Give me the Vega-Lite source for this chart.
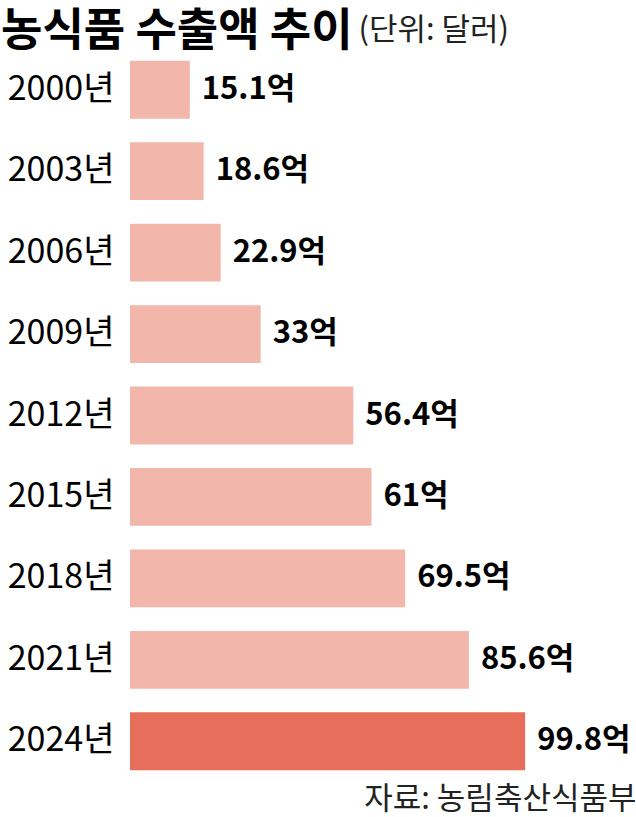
{
  "$schema": "https://vega.github.io/schema/vega-lite/v6.json",
  "width": 506,
  "height": 733,
  "autosize": {"type": "none"},
  "padding": {"left": 130, "top": 49, "right": 0, "bottom": 35},
  "background": "white",
  "config": {"view": {"stroke": null}, "font": "Noto Sans CJK KR"},
  "title": {
    "text": "농식품 수출액 추이",
    "anchor": "start",
    "frame": "group",
    "dx": -129,
    "dy": 49,
    "offset": 8,
    "fontSize": 45,
    "fontWeight": "bold",
    "color": "#000000",
    "font": "Noto Sans CJK KR"
  },
  "data": {
    "values": [
      {"year": "2000년", "value": 15.1},
      {"year": "2003년", "value": 18.6},
      {"year": "2006년", "value": 22.9},
      {"year": "2009년", "value": 33},
      {"year": "2012년", "value": 56.4},
      {"year": "2015년", "value": 61},
      {"year": "2018년", "value": 69.5},
      {"year": "2021년", "value": 85.6},
      {"year": "2024년", "value": 99.8}
    ]
  },
  "transform": [{"calculate": "datum.value + '억'", "as": "label"}],
  "encoding": {
    "y": {
      "field": "year",
      "type": "nominal",
      "sort": null,
      "scale": {"paddingInner": 0.29, "paddingOuter": 0.145},
      "axis": {
        "domain": false,
        "ticks": false,
        "labelFontSize": 34,
        "labelColor": "#000000",
        "labelPadding": 16,
        "labelFont": "Noto Sans CJK KR",
        "title": "(단위: 달러)",
        "titleAngle": 0,
        "titleX": 228,
        "titleY": -10,
        "titleAlign": "left",
        "titleBaseline": "alphabetic",
        "titleFontSize": 31,
        "titleFontWeight": "normal",
        "titleColor": "#222222",
        "titleFont": "Noto Sans CJK KR"
      }
    },
    "x": {
      "field": "value",
      "type": "quantitative",
      "scale": {"domain": [0, 127.8], "nice": false},
      "axis": {
        "domain": false,
        "ticks": false,
        "labels": false,
        "grid": false,
        "title": "자료: 농림축산식품부",
        "titleX": 506,
        "titleY": 26,
        "titleAlign": "right",
        "titleAnchor": null,
        "titleBaseline": "alphabetic",
        "titleFontSize": 31,
        "titleFontWeight": "normal",
        "titleColor": "#222222",
        "titleFont": "Noto Sans CJK KR"
      }
    }
  },
  "layer": [
    {
      "mark": {"type": "bar"},
      "encoding": {
        "color": {
          "condition": {"test": "datum.year === '2024년'", "value": "#E66E5A"},
          "value": "#F3B6AB"
        }
      }
    },
    {
      "mark": {
        "type": "text",
        "align": "left",
        "baseline": "middle",
        "dx": 12,
        "fontSize": 31,
        "fontWeight": "bold",
        "color": "#000000",
        "font": "Noto Sans CJK KR"
      },
      "encoding": {"text": {"field": "label"}}
    }
  ]
}
